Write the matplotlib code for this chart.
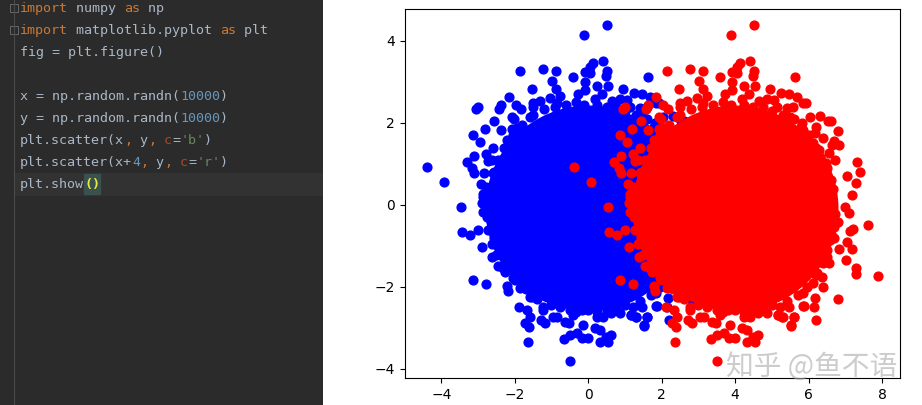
import matplotlib
matplotlib.use('Agg')
import matplotlib.pyplot as plt
from matplotlib.patches import Rectangle

base_x = [0.52, -0.11, -4.39, -3.92, -1.85, -1.22, -0.87, -0.41, 0.41, 0.14, 0.06, -0.08, 0.06, 0.52, 0.49,
          -0.08, -0.98, -0.87, -0.77, -1.54, -2.15, 1.64, -0.08, -0.27, 0.23, 0.55, 0.37, 0.18, 0.95, 1.26,
          1.46, 1.68, 0.64, 0.86, -2.37, -2.42, -2.99, -3.05, -1.96, -1.82, -2.07, -2.01, -2.56, -2.80, -2.37,
          -2.07, -3.13, -2.94, -2.59, -3.10, -2.78, -3.29, -2.72, -3.16, -3.10, -2.83, -2.91, -2.86, -1.50, -1.32,
          -1.04, 1.94, 1.85, 2.05, 2.30, 2.54, 2.62, 2.79, 1.81, 2.19, 2.40, 2.70, 2.84, 2.65, 2.55,
          2.73, 3.33, 3.41, 3.06, 3.28, 3.17, 2.66, 2.47, 2.29, 2.18, 1.59, 1.40, 1.06, 2.98, 3.11,
          2.73, 2.81, 3.63, 3.22, 3.13, 2.68, 3.06, 3.17, 2.84, 3.03, 2.50, 2.57, 3.30, 3.30, 3.88,
          2.38, 2.40, 2.18, 2.81, 2.15, 1.88, 1.60, 1.29, 1.18, 2.19, 1.53, -3.46, -2.89, -2.86, -2.75,
          -3.43, -3.21, -2.99, -2.72, -2.89, -2.63, -2.61, -2.45, -2.26, -3.13, -2.78, -2.21, -2.18, -2.00, -1.59,
          -1.88, -1.66, -1.58, -1.71, -1.61, -1.63, -1.22, -1.28, -1.17, -0.95, -0.84, -0.62, -0.52, -0.13, 0.19,
          0.33, 0.63, 0.49, 0.33, 0.55, -0.65, -0.49, -0.30, -0.16, 0.00, -0.49, 0.23, 0.41, 0.63, 0.86,
          1.17, 1.31, 1.61, 1.53, 1.46, 1.86, -0.41, -0.18,
          -2.22, -1.95, -1.59, -1.50, -0.86, -0.32, 0.23, 0.77, -2.63, -2.59, -2.77, -2.86,
          -2.68, -2.63, -2.54, -2.50, -2.31, -2.04, -1.86, -1.54, -1.22, -0.77, -0.32, 0.23, 0.77, 1.23,
          1.86, 2.13, 2.22, 2.40, 2.59, 2.68, 2.59, 2.50, 2.50, 2.45, 2.31, 2.13, 1.86, 1.50, 1.13,
          -1.20, -0.90, -0.60, -0.10, 0.50, 1.00, 1.30, 1.60, 1.80, 2.00, 2.20, 2.35, 2.50, 2.60, 2.60,
          2.65, 2.60, 2.60, 2.50, 2.35, 2.20, 1.95, 1.70, 1.40, 1.00, 0.50, 0.00, -0.50, -1.00, -1.40,
          -1.70, -2.00, -2.20, -2.40, -2.55, -2.65, -2.70, -2.65, -2.55, -2.45, -2.30, -2.05, -1.80, -1.50]
base_y = [4.38, 4.14, 0.92, 0.55, 3.28, 3.31, 3.26, 3.11, 3.50, 3.46, 3.36, 3.24, 3.21, 3.28, 3.14,
          2.99, 3.02, 2.82, 2.67, 2.82, 2.63, 3.11, 2.80, 2.70, 2.89, 2.89, 2.70, 2.58, 2.82, 2.72,
          2.70, 2.64, 2.53, 2.58, 2.43, 2.33, 2.38, 2.33, 2.43, 2.33, 2.15, 2.09, 2.04, 1.85, 1.82,
          1.85, 1.70, 1.53, 1.38, 1.19, 1.24, 1.04, 1.07, 0.91, 0.79, 0.79, 0.50, 0.28, 2.48, 2.53,
          2.60, 2.48, 2.48, 2.14, 2.16, 2.04, 2.04, 1.80, 1.99, 1.91, 1.63, 1.56, 1.46, 1.46, 1.26,
          1.09, 1.04, 0.80, 0.70, 0.53, 0.24, 0.38, 1.02, 1.33, 1.75, 2.40, 2.36, 2.56, -0.06, -0.20,
          -0.23, -0.42, -0.50, -0.59, -0.63, -0.81, -0.91, -1.08, -1.08, -1.33, -1.26, -1.42, -1.54, -1.69, -1.72,
          -1.76, -2.01, -2.28, -2.30, -2.50, -2.47, -2.72, -2.72, -2.69, -2.81, -2.94, -0.06, 0.06, -0.16, -0.30,
          -0.67, -0.72, -0.61, -0.61, -1.03, -0.95, -1.26, -1.50, -1.64, -1.84, -1.93, -1.98, -2.11, -1.83, -2.25,
          -2.50, -2.57, -2.72, -2.89, -2.98, -3.33, -2.57, -2.81, -2.89, -2.72, -2.72, -2.86, -2.89, -2.93, -3.01,
          -3.06, -3.16, -3.23, -3.35, -3.35, -3.28, -3.18, -3.13, -3.25, -3.25, -3.81, -2.74, -2.74, -2.64, -2.64,
          -2.69, -2.72, -2.72, -2.93, -2.48, -2.46, -2.68, -2.56,
          1.59, 1.87, 2.15, 2.40, 2.48, 2.52, 2.44, 2.40, 1.10, 0.77, 0.45, 0.20,
          -0.12, -0.37, -0.93, -1.22, -1.54, -1.79, -2.03, -2.24, -2.48, -2.48, -2.60, -2.60, -2.52, -2.48,
          -2.15, -1.91, -1.67, -1.42, -0.85, -0.53, -0.12, 0.12, 0.45, 0.77, 1.18, 1.50, 1.83, 2.15, 2.40,
          2.35, 2.40, 2.45, 2.45, 2.40, 2.30, 2.20, 2.10, 1.90, 1.70, 1.40, 1.10, 0.90, 0.60, 0.30,
          0.00, -0.30, -0.70, -1.10, -1.40, -1.70, -2.00, -2.20, -2.35, -2.45, -2.55, -2.55, -2.55, -2.45, -2.30,
          -2.05, -1.75, -1.50, -1.20, -0.80, -0.40, 0.00, 0.40, 0.80, 1.10, 1.40, 1.70, 1.95, 2.20]

# the solid middle of the cloud, too dense to read single points
core_x = [0.0]
core_y = [-0.08]
red_shift = 4

x_ticks = [-4, -2, 0, 2, 4, 6, 8]
y_ticks = [-4, -2, 0, 2, 4]

# code in the editor: one list of (text, colour kind) runs per line
code_lines = [
    [('import', 'kw'), (' numpy ', 'txt'), ('as', 'kw'), (' np', 'txt')],
    [('import', 'kw'), (' matplotlib.pyplot ', 'txt'), ('as', 'kw'), (' plt', 'txt')],
    [('fig = plt.figure()', 'txt')],
    [],
    [('x = np.random.randn(', 'txt'), ('10000', 'num'), (')', 'txt')],
    [('y = np.random.randn(', 'txt'), ('10000', 'num'), (')', 'txt')],
    [('plt.scatter(x', 'txt'), (',', 'kw'), (' y', 'txt'), (',', 'kw'), (' ', 'txt'), ('c', 'arg'), ('=', 'txt'),
     ("'b'", 'str'), (')', 'txt')],
    [('plt.scatter(x+', 'txt'), ('4', 'num'), (',', 'kw'), (' y', 'txt'), (',', 'kw'), (' ', 'txt'), ('c', 'arg'),
     ('=', 'txt'), ("'r'", 'str'), (')', 'txt')],
    [('plt.show', 'txt'), ('()', 'paren')],
]
code_colors = {'kw': '#cc7832', 'txt': '#a9b7c6', 'num': '#6897bb', 'str': '#6a8759', 'arg': '#aa4926',
               'paren': '#e8e84a'}

W, H = 922, 405
fig = plt.figure(figsize=(W / 100, H / 100), dpi=100, facecolor='white')

# editor panel, in pixel coordinates
ed = fig.add_axes([0, 0, 323 / W, 1])
ed.set_xlim(0, 323)
ed.set_ylim(H, 0)
ed.axis('off')
ed.add_patch(Rectangle((0, 0), 323, H, color='#2b2b2b'))
ed.add_patch(Rectangle((15, 173), 308, 22, color='#323232'))
ed.plot([14, 14], [0, H], color='#4a4a4a', lw=0.8)
ed.add_patch(Rectangle((84, 174), 16, 20, color='#3b514d'))
for row in [8, 30]:
    ed.add_patch(Rectangle((10, row - 4), 8, 8, fill=False, ec='#666666', lw=0.7))

for i, line in enumerate(code_lines):
    col = 0
    for text, kind in line:
        ed.text(20 + 8 * col, 8.5 + 22 * i, text, family='DejaVu Sans Mono', fontsize=9.6, va='center', ha='left',
                color=code_colors[kind], weight='bold' if kind == 'paren' else 'normal')
        col += len(text)

# scatter
ax = fig.add_axes([404.5 / W, 1 - 378 / H, 495.5 / W, 369 / H])
ax.scatter(core_x, core_y, c='b', s=22000, linewidths=0)
ax.scatter(base_x, base_y, c='b', s=40, linewidths=1.0)
ax.scatter([v + red_shift for v in core_x], core_y, c='r', s=22000, linewidths=0)
ax.scatter([v + red_shift for v in base_x], base_y, c='r', s=40, linewidths=1.0)
ax.set_xlim(-5.0, 8.49)
ax.set_ylim(-4.22, 4.78)
ax.set_xticks(x_ticks)
ax.set_yticks(y_ticks)

fig.text(726 / W, 1 - 367 / H, '知乎 @鱼不语', family=['Noto Sans CJK SC', 'DejaVu Sans'], fontsize=20,
         color='#aaaaaa', alpha=0.6, va='center', ha='left', zorder=10)

fig.savefig('out.png', dpi=100)
